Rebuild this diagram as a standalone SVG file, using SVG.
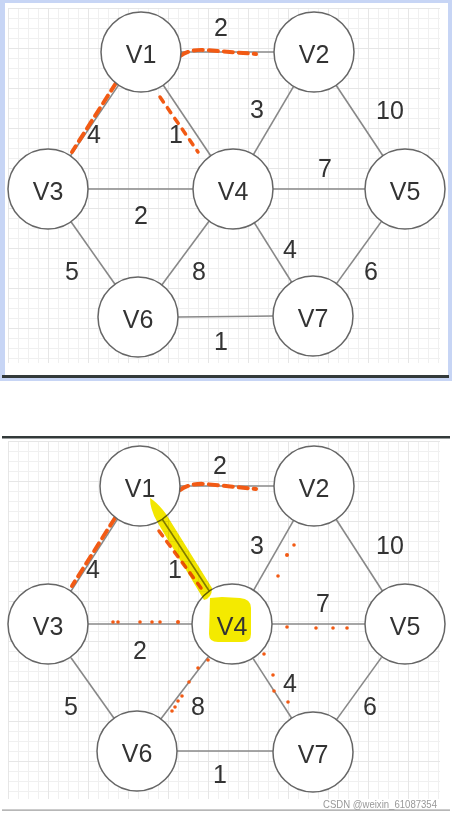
<svg xmlns="http://www.w3.org/2000/svg" width="452" height="819" viewBox="0 0 452 819">
<defs>
<pattern id="grid" x="8" y="8" width="40" height="40" patternUnits="userSpaceOnUse">
<path d="M0,0.5H40M0,10.5H40M0,20.5H40M0,30.5H40M0.5,0V40M10.5,0V40M20.5,0V40M30.5,0V40" stroke="#f0f0f0" stroke-width="1" fill="none"/>
<path d="M0,0.5H40M0.5,0V40" stroke="#e6e6e6" stroke-width="1" fill="none"/>
</pattern>
<pattern id="grid2" x="8" y="441" width="40" height="40" patternUnits="userSpaceOnUse">
<path d="M0,0.5H40M0,10.5H40M0,20.5H40M0,30.5H40M0.5,0V40M10.5,0V40M20.5,0V40M30.5,0V40" stroke="#f0f0f0" stroke-width="1" fill="none"/>
<path d="M0,0.5H40M0.5,0V40" stroke="#e6e6e6" stroke-width="1" fill="none"/>
</pattern>
</defs>
<style>
.node circle{fill:#fff;stroke:#666;stroke-width:1.5}
.node text{font-family:"Liberation Sans",Arial,sans-serif;font-size:25px;fill:#333;text-anchor:middle}
.edge{stroke:#888;stroke-width:1.6;fill:none}
.lbl{font-family:"Liberation Sans",Arial,sans-serif;font-size:25px;fill:#333;text-anchor:middle}
.dash{stroke:#f25a14;stroke-width:4;fill:none;stroke-linecap:round;stroke-dasharray:9 6}
.dash2{stroke:#f25a14;stroke-width:3.5;fill:none;stroke-linecap:round;stroke-dasharray:6 7}
.dot{fill:#f25a14}
</style>
<rect x="0" y="0" width="452" height="819" fill="#fff"/>
<!-- top panel frame -->
<rect x="0" y="0" width="452" height="381" fill="#c7d5f5"/>
<rect x="5" y="3" width="443" height="372" fill="#fff"/>
<rect x="8" y="8" width="432" height="355" fill="url(#grid)"/>
<rect x="2" y="375" width="447" height="3" fill="#333a3a"/>
<!-- bottom panel frame -->
<rect x="2" y="436" width="448" height="2.5" fill="#333a3a"/>
<rect x="8" y="441" width="432" height="358" fill="url(#grid2)"/>
<rect x="2" y="809.5" width="448" height="1.2" fill="#999"/>

<!-- TOP PANEL -->
<g id="top-connectors">
<line class="edge" x1="181" y1="52" x2="274" y2="52"/>
<line class="edge" x1="118.5" y1="85.1" x2="70.5" y2="155.9"/>
<line class="edge" x1="163.3" y1="85.2" x2="210.7" y2="155.8"/>
<line class="edge" x1="293.6" y1="86.4" x2="253.4" y2="154.6"/>
<line class="edge" x1="336.1" y1="85.3" x2="382.9" y2="155.7"/>
<line class="edge" x1="88" y1="189" x2="193" y2="189"/>
<line class="edge" x1="273" y1="189" x2="365" y2="189"/>
<line class="edge" x1="71" y1="221.7" x2="115" y2="284.3"/>
<line class="edge" x1="209.2" y1="221.1" x2="161.8" y2="284.9"/>
<line class="edge" x1="254.3" y1="222.8" x2="291.7" y2="282.2"/>
<line class="edge" x1="381.5" y1="221.4" x2="336.5" y2="283.6"/>
<line class="edge" x1="178" y1="317" x2="273" y2="316"/>
<text class="lbl" x="221" y="36">2</text>
<text class="lbl" x="257" y="118">3</text>
<text class="lbl" x="390" y="119">10</text>
<text class="lbl" x="94" y="143">4</text>
<text class="lbl" x="176" y="143">1</text>
<text class="lbl" x="325" y="177">7</text>
<text class="lbl" x="141" y="224">2</text>
<text class="lbl" x="72" y="280">5</text>
<text class="lbl" x="199" y="280">8</text>
<text class="lbl" x="290" y="258">4</text>
<text class="lbl" x="371" y="280">6</text>
<text class="lbl" x="221" y="350">1</text>
<path class="dash" d="M180,56 Q190,49 205,50 L256,54"/>
<line class="dash" x1="116" y1="83" x2="72" y2="152"/>
<line class="dash2" x1="160" y1="97" x2="198" y2="152"/>
</g>
<g id="t-V1" class="node"><circle cx="141" cy="52" r="40"/><text x="141" y="63">V1</text></g>
<g id="t-V2" class="node"><circle cx="314" cy="52" r="40"/><text x="314" y="63">V2</text></g>
<g id="t-V3" class="node"><circle cx="48" cy="189" r="40"/><text x="48" y="200">V3</text></g>
<g id="t-V4" class="node"><circle cx="233" cy="189" r="40"/><text x="233" y="200">V4</text></g>
<g id="t-V5" class="node"><circle cx="405" cy="189" r="40"/><text x="405" y="200">V5</text></g>
<g id="t-V6" class="node"><circle cx="138" cy="317" r="40"/><text x="138" y="328">V6</text></g>
<g id="t-V7" class="node"><circle cx="313" cy="316" r="40"/><text x="313" y="327">V7</text></g>

<!-- BOTTOM PANEL -->
<g id="bottom-connectors">
<line class="edge" x1="180" y1="486" x2="274" y2="486"/>
<line class="edge" x1="117.5" y1="519.1" x2="70.5" y2="591.9"/>
<line class="edge" x1="162.3" y1="519.2" x2="209.7" y2="591.8"/>
<line class="edge" x1="293.6" y1="520.4" x2="253.4" y2="590.6"/>
<line class="edge" x1="336.1" y1="519.3" x2="382.9" y2="591.7"/>
<line class="edge" x1="88" y1="624" x2="192" y2="624"/>
<line class="edge" x1="272" y1="624" x2="365" y2="624"/>
<line class="edge" x1="71" y1="657.7" x2="114" y2="718.3"/>
<line class="edge" x1="208.2" y1="657.1" x2="160.8" y2="718.9"/>
<line class="edge" x1="253.3" y1="658.8" x2="291.7" y2="718.2"/>
<line class="edge" x1="381.5" y1="657.4" x2="336.5" y2="719.6"/>
<line class="edge" x1="177" y1="751" x2="273" y2="751"/>
<text class="lbl" x="220" y="474">2</text>
<text class="lbl" x="257" y="554">3</text>
<text class="lbl" x="390" y="554">10</text>
<text class="lbl" x="93" y="578">4</text>
<text class="lbl" x="175" y="578">1</text>
<text class="lbl" x="323" y="612">7</text>
<text class="lbl" x="140" y="659">2</text>
<text class="lbl" x="71" y="715">5</text>
<text class="lbl" x="198" y="715">8</text>
<text class="lbl" x="290" y="692">4</text>
<text class="lbl" x="370" y="715">6</text>
<text class="lbl" x="220" y="783">1</text>
<path class="dash" d="M180,490 Q190,483 205,484 L256,489"/>
<line class="dash" x1="115" y1="518" x2="72" y2="586"/>
<line class="dash2" x1="159" y1="531" x2="201" y2="588"/>
<g id="dots">
<circle class="dot" cx="113" cy="622" r="1.8"/><circle class="dot" cx="118" cy="622" r="1.8"/>
<circle class="dot" cx="140" cy="622" r="1.8"/><circle class="dot" cx="152" cy="622" r="1.8"/>
<circle class="dot" cx="160" cy="622" r="1.8"/><circle class="dot" cx="178" cy="622" r="2"/>
<circle class="dot" cx="294" cy="545" r="1.8"/><circle class="dot" cx="287" cy="555" r="2"/>
<circle class="dot" cx="278" cy="576" r="1.8"/>
<circle class="dot" cx="287" cy="627" r="1.8"/><circle class="dot" cx="316" cy="628" r="1.8"/>
<circle class="dot" cx="333" cy="628" r="1.8"/><circle class="dot" cx="347" cy="628" r="1.8"/>
<circle class="dot" cx="208" cy="660" r="1.8"/><circle class="dot" cx="198" cy="668" r="1.8"/>
<circle class="dot" cx="189" cy="682" r="1.8"/><circle class="dot" cx="182" cy="696" r="1.8"/>
<circle class="dot" cx="178" cy="701" r="1.8"/><circle class="dot" cx="175" cy="707" r="1.8"/>
<circle class="dot" cx="172" cy="711" r="1.8"/>
<circle class="dot" cx="264" cy="654" r="1.8"/><circle class="dot" cx="273" cy="675" r="1.8"/>
<circle class="dot" cx="274" cy="691" r="1.8"/><circle class="dot" cx="288" cy="702" r="1.8"/>
</g>
</g>
<g id="b-V1" class="node"><circle cx="140" cy="486" r="40"/><text x="140" y="497">V1</text></g>
<g id="b-V2" class="node"><circle cx="314" cy="486" r="40"/><text x="314" y="497">V2</text></g>
<g id="b-V3" class="node"><circle cx="48" cy="624" r="40"/><text x="48" y="635">V3</text></g>
<g id="b-V4" class="node"><circle cx="232" cy="624" r="40"/><path d="M210,598 L222,597 L240,598 Q251,599 251,608 L251,634 Q251,642 242,642 L218,642 Q209,642 209,634 Z" fill="#f4ea00"/><text x="232" y="635">V4</text></g>
<g id="b-V5" class="node"><circle cx="405" cy="624" r="40"/><text x="405" y="635">V5</text></g>
<g id="b-V6" class="node"><circle cx="137" cy="751" r="40"/><text x="137" y="762">V6</text></g>
<g id="b-V7" class="node"><circle cx="313" cy="752" r="40"/><text x="313" y="763">V7</text></g>
<path d="M150,498 Q158,503 166,514 L212,588 Q212,598 204,600 L159,525 Q150,511 150,498 Z" fill="#f2e600" style="mix-blend-mode:multiply"/>
<text x="437" y="808" text-anchor="end" textLength="114" lengthAdjust="spacingAndGlyphs" font-family="'Liberation Sans',Arial,sans-serif" font-size="10.5" fill="#999">CSDN @weixin_61087354</text>
</svg>
